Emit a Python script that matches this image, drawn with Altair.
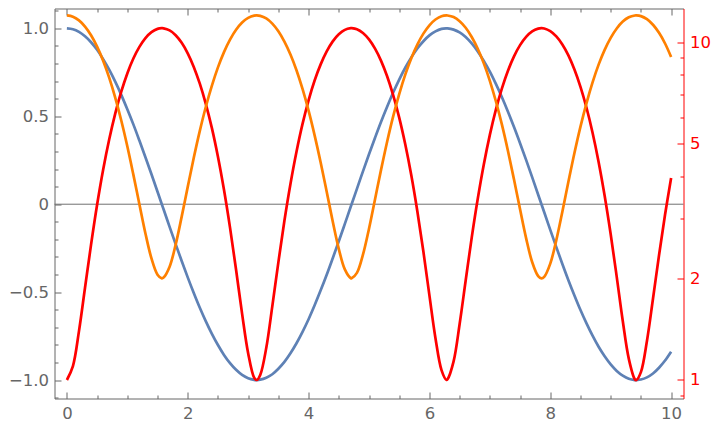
import altair as alt
import pandas as pd

# sampling grid (x from 0 to 10)
X = [i / 10 for i in range(101)]

# blue series (left linear axis)
BLUE = [1.000, 0.995, 0.980, 0.955, 0.921, 0.878, 0.825, 0.765, 0.697, 0.622,
        0.540, 0.454, 0.362, 0.267, 0.170, 0.071, -0.029, -0.129, -0.227, -0.323,
        -0.416, -0.505, -0.589, -0.666, -0.737, -0.801, -0.857, -0.904, -0.942, -0.971,
        -0.990, -0.999, -0.998, -0.987, -0.967, -0.936, -0.897, -0.848, -0.791, -0.726,
        -0.654, -0.575, -0.490, -0.401, -0.307, -0.211, -0.112, -0.012, 0.087, 0.187,
        0.284, 0.378, 0.469, 0.554, 0.635, 0.709, 0.776, 0.835, 0.886, 0.927,
        0.960, 0.983, 0.997, 1.000, 0.993, 0.977, 0.951, 0.914, 0.869, 0.815,
        0.754, 0.684, 0.608, 0.526, 0.439, 0.347, 0.252, 0.154, 0.054, -0.046,
        -0.146, -0.244, -0.340, -0.432, -0.519, -0.602, -0.678, -0.748, -0.811, -0.865,
        -0.911, -0.948, -0.975, -0.993, -1.000, -0.997, -0.985, -0.963, -0.930, -0.889,
        -0.839]

# orange series (right log axis)
ORANGE = [12.0, 11.9, 11.605, 11.125, 10.485, 9.7, 8.81, 7.85, 6.855, 5.865,
          4.92, 4.055, 3.315, 2.715, 2.29, 2.05, 2.01, 2.165, 2.515, 3.045,
          3.73, 4.55, 5.465, 6.44, 7.435, 8.42, 9.345, 10.175, 10.88, 11.43,
          11.8, 11.985, 11.965, 11.755, 11.345, 10.77, 10.04, 9.195, 8.26, 7.27,
          6.27, 5.3, 4.405, 3.61, 2.945, 2.445, 2.125, 2.0, 2.075, 2.35,
          2.805, 3.43, 4.195, 5.075, 6.03, 7.02, 8.015, 8.965, 9.84, 10.6,
          11.22, 11.67, 11.93, 11.995, 11.865, 11.535, 11.03, 10.36, 9.56, 8.655,
          7.685, 6.685, 5.7, 4.765, 3.92, 3.2, 2.63, 2.235, 2.03, 2.02,
          2.21, 2.595, 3.15, 3.86, 4.7, 5.625, 6.605, 7.605, 8.58, 9.49,
          10.3, 10.98, 11.505, 11.845, 11.995, 11.945, 11.695, 11.26, 10.66, 9.91,
          9.04]

# red series (right log axis)
RED = [1.0, 1.1, 1.395, 1.875, 2.515, 3.3, 4.19, 5.15, 6.145, 7.135,
       8.08, 8.945, 9.685, 10.285, 10.71, 10.95, 10.99, 10.835, 10.485, 9.955,
       9.27, 8.45, 7.535, 6.56, 5.565, 4.58, 3.655, 2.825, 2.12, 1.57,
       1.2, 1.015, 1.035, 1.245, 1.655, 2.23, 2.96, 3.805, 4.74, 5.73,
       6.73, 7.7, 8.595, 9.39, 10.055, 10.555, 10.875, 11.0, 10.925, 10.65,
       10.195, 9.57, 8.805, 7.925, 6.97, 5.98, 4.985, 4.035, 3.16, 2.4,
       1.78, 1.33, 1.07, 1.005, 1.135, 1.465, 1.97, 2.64, 3.44, 4.345,
       5.315, 6.315, 7.3, 8.235, 9.08, 9.8, 10.37, 10.765, 10.97, 10.98,
       10.79, 10.405, 9.85, 9.14, 8.3, 7.375, 6.395, 5.395, 4.42, 3.51,
       2.7, 2.02, 1.495, 1.155, 1.005, 1.055, 1.305, 1.74, 2.34, 3.09,
       3.96]

# extra readings at the turning points of the curves
X_EXTRA = [1.571, 3.142, 4.712, 6.283, 7.854, 9.425]
BLUE_EXTRA = [0.0, -1.0, 0.0, 1.0, 0.0, -1.0]
ORANGE_EXTRA = [2.0, 12.0, 2.0, 12.0, 2.0, 12.0]
RED_EXTRA = [11.0, 1.0, 11.0, 1.0, 11.0, 1.0]

ZERO = [0.0]

X_MAJOR = [0, 2, 4, 6, 8, 10]
X_MINOR = [0.5, 1, 1.5, 2.5, 3, 3.5, 4.5, 5, 5.5, 6.5, 7, 7.5, 8.5, 9, 9.5]
YL_MAJOR = [-1, -0.5, 0, 0.5, 1]
YL_MINOR = [-1.1, -0.9, -0.8, -0.7, -0.6, -0.4, -0.3, -0.2, -0.1,
            0.1, 0.2, 0.3, 0.4, 0.6, 0.7, 0.8, 0.9, 1.1]
YR_MAJOR = [1, 2, 5, 10]
YR_MINOR = [0.9, 3, 4, 6, 7, 8, 9]

C_BLUE = "#5E81B5"
C_ORANGE = "#FF8000"
C_RED = "#FF0000"
GRAY = "#666666"
FONT = "DejaVu Sans"
FS = 16.5
INTERP = "catmull-rom"

df = pd.DataFrame({
    "x": X + X_EXTRA,
    "blue": BLUE + BLUE_EXTRA,
    "orange": ORANGE + ORANGE_EXTRA,
    "red": RED + RED_EXTRA,
}).sort_values("x").reset_index(drop=True)
zdf = pd.DataFrame({"y": ZERO})

XS = alt.Scale(domain=[-0.205, 10.205], nice=False, zero=False)
YL = alt.Scale(domain=[-1.105, 1.113], nice=False, zero=False)
YR = alt.Scale(type="log", domain=[0.8815, 12.58], nice=False)


def tick_axis(orient, values, size, color, label_expr=None, pad=0):
    kw = dict(orient=orient, values=values, tickSize=size, offset=-size,
              domain=False, grid=False, ticks=True, tickColor=color,
              tickWidth=1, title=None)
    if label_expr is None:
        kw["labels"] = False
    else:
        kw.update(labels=True, labelExpr=label_expr, labelFont=FONT,
                  labelFontSize=FS, labelColor=color, labelPadding=pad,
                  labelOverlap=False, labelFlush=False)
    return alt.Axis(**kw)


def domain_axis(orient, color):
    return alt.Axis(orient=orient, values=[0], domain=True, domainColor=color,
                    domainWidth=1, ticks=False, labels=False, grid=False,
                    title=None, offset=0)


LEFT_EXPR = "datum.value == 0 ? '0' : replace(format(datum.value, '.1f'), '-', '\u2212')"
INT_EXPR = "format(datum.value, 'd')"

base = alt.Chart(df)

zero = alt.Chart(zdf).mark_rule(color="#707070", strokeWidth=1).encode(
    y=alt.Y("y:Q", scale=YL, axis=None)
)
blue = base.mark_line(color=C_BLUE, strokeWidth=2.7, interpolate=INTERP).encode(
    x=alt.X("x:Q", scale=XS, axis=tick_axis("bottom", X_MAJOR, 6.5, GRAY, INT_EXPR, 7)),
    y=alt.Y("blue:Q", scale=YL, axis=tick_axis("left", YL_MAJOR, 6.5, GRAY, LEFT_EXPR, 6)),
)
ghost_l1 = base.mark_line(opacity=0).encode(
    x=alt.X("x:Q", scale=XS, axis=tick_axis("bottom", X_MINOR, 3.5, GRAY)),
    y=alt.Y("blue:Q", scale=YL, axis=tick_axis("left", YL_MINOR, 3.5, GRAY)),
)
ghost_l2 = base.mark_line(opacity=0).encode(
    x=alt.X("x:Q", scale=XS, axis=domain_axis("bottom", GRAY)),
    y=alt.Y("blue:Q", scale=YL, axis=domain_axis("left", GRAY)),
)
left = alt.layer(zero, blue, ghost_l1, ghost_l2).resolve_axis(x="independent", y="independent")

red = base.mark_line(color=C_RED, strokeWidth=2.7, interpolate=INTERP).encode(
    x=alt.X("x:Q", scale=XS, axis=tick_axis("top", X_MAJOR, 6.5, GRAY)),
    y=alt.Y("red:Q", scale=YR, axis=tick_axis("right", YR_MAJOR, 6.5, C_RED, INT_EXPR, 6)),
)
orange = base.mark_line(color=C_ORANGE, strokeWidth=2.7, interpolate=INTERP).encode(
    x=alt.X("x:Q", scale=XS, axis=tick_axis("top", X_MINOR, 3.5, GRAY)),
    y=alt.Y("orange:Q", scale=YR, axis=tick_axis("right", YR_MINOR, 3.5, C_RED)),
)
ghost_r = base.mark_line(opacity=0).encode(
    x=alt.X("x:Q", scale=XS, axis=domain_axis("top", GRAY)),
    y=alt.Y("red:Q", scale=YR, axis=domain_axis("right", C_RED)),
)
right = alt.layer(red, orange, ghost_r).resolve_axis(x="independent", y="independent")

chart = (
    alt.layer(left, right)
    .resolve_scale(y="independent")
    .resolve_axis(x="independent", y="independent")
    .properties(
        width=629,
        height=390,
        padding={"left": 46.5, "top": 0.5, "right": 28.5, "bottom": 25.5},
        autosize=alt.AutoSizeParams(type="none"),
        background="white",
    )
    .configure_view(stroke=None)
)

chart.save("out.html", embed_options={"renderer": "svg", "actions": False})
